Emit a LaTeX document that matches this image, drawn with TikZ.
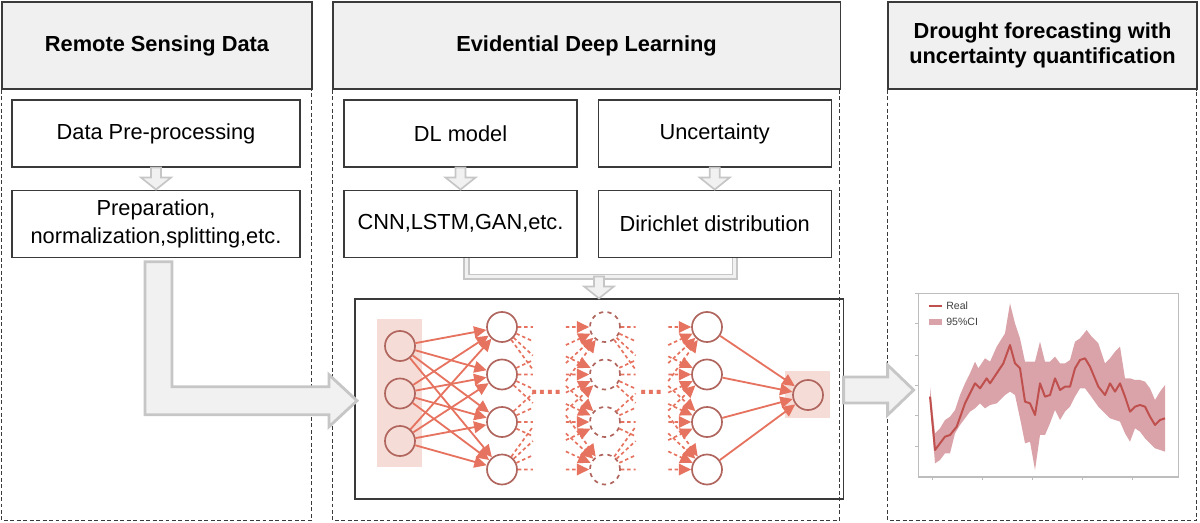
\documentclass[tikz,border=0pt]{standalone}
\usepackage{fontspec}
\setmainfont{Liberation Sans}
\usetikzlibrary{arrows.meta,positioning,calc}
\definecolor{hdrfill}{HTML}{F0F0F0}
\definecolor{frame}{HTML}{3A3A3A}
\definecolor{pipe}{HTML}{C6C6C6}
\definecolor{pipefill}{HTML}{F1F1F1}
\definecolor{nnedge}{HTML}{E6735F}
\definecolor{nnring}{HTML}{B0665E}
\definecolor{nnpink}{HTML}{F6DCD6}
\definecolor{real}{HTML}{C0504D}
\definecolor{ci}{HTML}{D9A3A9}
\definecolor{axis}{HTML}{BDBDBD}
\tikzset{
  >={Triangle[length=3.1mm,width=2.9mm]},
  hdr/.style={draw=frame,line width=0.8pt,fill=hdrfill,font=\fontsize{15.5}{18}\selectfont\bfseries,align=center,inner sep=0pt,minimum height=2.175cm},
  box/.style={draw=frame,line width=0.8pt,fill=white,font=\fontsize{15.5}{20}\selectfont,align=center,inner sep=0pt,minimum height=1.675cm},
  panel/.style={draw=frame,line width=0.8pt,dash pattern=on 2.8pt off 1.8pt},
  hollow/.style={draw=pipe,line width=2pt,fill=pipefill},
  pipeline/.style={draw=pipe,line width=1pt,double=pipefill,double distance=2.4pt},
  neuron/.style={circle,draw=nnring,line width=1.2pt,minimum size=0.75cm,inner sep=0pt},
  nnarrow/.style={->,draw=nnedge,line width=1.3pt},
  nnstub/.style={draw=nnedge,line width=1.2pt,dash pattern=on 2.5pt off 2pt},
  nndots/.style={text=nnedge,font=\fontsize{20}{20}\selectfont\bfseries,inner sep=0pt},
  legend/.style={font=\fontsize{7.5}{9}\selectfont,text=black!75,inner sep=0pt,anchor=west},
  dnarrow/.pic={\draw[hollow,line width=1.2pt] (-5,0) -- (5,0) -- (5,10) -- (15,10) -- (0,22) -- (-15,10) -- (-5,10) -- cycle;},
}
\begin{document}
\begin{tikzpicture}[x=0.025cm,y=-0.025cm]
\useasboundingbox (0,0) rectangle (1200,523);

% column headers
\node[hdr,minimum width=7.75cm] (hrs) at (157,45.5) {Remote Sensing Data};
\node[hdr,minimum width=12.675cm] (hedl) at (586.5,45.5) {Evidential Deep Learning};
\node[hdr,minimum width=7.725cm] (hdf) at (1042.5,45.5) {Drought forecasting with\\uncertainty quantification};

\draw[panel] (hrs.south west) rectangle ++(310,431);
\draw[panel] (hedl.south west) rectangle ++(507,431);
\draw[panel] (hdf.south west) rectangle ++(309,431);

% boxes
\node[box,minimum width=7.2cm] (pre) at (156,133.5) {Data Pre-processing};
\node[box,minimum width=7.2cm,below=0.55cm of pre] (prep) {Preparation,\\normalization,splitting,etc.};
\node[box,minimum width=5.825cm] (dl) at (460.5,133.5) {DL model};
\node[box,minimum width=5.825cm,right=0.5cm of dl] (unc) {Uncertainty};
\node[box,minimum width=5.825cm,below=0.55cm of dl] (cnn) {CNN,LSTM,GAN,etc.};
\node[box,minimum width=5.825cm,below=0.55cm of unc] (dir) {Dirichlet distribution};
\node[draw=frame,line width=0.8pt,minimum width=12.2cm,minimum height=5cm] (nn) at (599,399) {};

\pic at (pre.south) {dnarrow};
\pic at (dl.south) {dnarrow};
\pic at (unc.south) {dnarrow};
\draw[pipeline] ([xshift=0.15cm]cnn.south) -- ++(0,19) -| ([xshift=0.5cm]dir.south);
\pic at ($(nn.north)+(0,-22)$) {dnarrow};

% big arrows
\draw[hollow] ($(prep.south)+(-11,4)$) -- ++(27,0) -- ++(0,125) -- ++(157,0) -- ++(0,-12)
  -- ++(28,26) -- ++(-28,26) -- ++(0,-12) -- ++(-184,0) -- cycle;
\draw[hollow] ($(nn.east)+(0,-22)$) -- ++(44,0) -- ++(0,-12) -- ++(26,25) -- ++(-26,25)
  -- ++(0,-12) -- ++(-44,0) -- cycle;

% network
\fill[nnpink] (377,319) rectangle (422,467);
\fill[nnpink] (785,371) rectangle (830,418);
\foreach \i/\y in {1/346,2/393.5,3/441}
  \node[neuron] (in\i) at (400,\y) {};
\foreach \i/\y in {1/327,2/374.5,3/422,4/469.5} {
  \node[neuron] (ha\i) at (502,\y) {};
  \node[neuron,dashed] (hb\i) at (605,\y) {};
  \node[neuron] (hc\i) at (707,\y) {};
}
\node[neuron] (out) at (808,395) {};

\foreach \i in {1,2,3}
  \foreach \j in {1,...,4}
    \draw[nnarrow] (in\i) -- (ha\j);
\foreach \i in {1,...,4}
  \draw[nnarrow] (hc\i) -- (out);
\foreach \i in {1,...,4}
  \foreach \j in {1,...,4} {
    \draw[nnstub] (ha\i) -- ($(ha\i)!0.3!(hb\j)$);
    \draw[nnstub,->] ($(ha\i)!0.62!(hb\j)$) -- (hb\j);
    \draw[nnstub] (hb\i) -- ($(hb\i)!0.3!(hc\j)$);
    \draw[nnstub,->] ($(hb\i)!0.62!(hc\j)$) -- (hc\j);
  }
\node[nndots] (dotsa) at (546,392) {....};
\node[nndots] (dotsb) at (651,392) {...};

% forecast chart
\begin{scope}[shift={(890,280)},scale=1/3]
\fill[ci] plot coordinates {(120,320) (135,460) (150,445) (165,420) (180,410) (195,390) (210,345)
  (225,310) (240,280) (255,245) (265,265) (285,235) (300,245) (320,200) (345,160) (360,70)
  (375,130) (390,175) (405,245) (420,245) (435,245) (450,185) (465,245) (480,245) (495,230)
  (510,250) (525,250) (540,240) (555,185) (570,175) (590,150) (605,170) (625,190) (645,250)
  (660,235) (675,215) (690,200) (705,295) (720,295) (735,300) (750,300) (765,305) (780,325)
  (795,360) (810,335) (825,315)
  (825,515) (810,510) (795,505) (780,490) (765,475) (750,455) (735,445) (720,485) (705,460)
  (690,425) (675,420) (660,415) (645,400) (625,380) (600,345) (585,325) (570,325) (555,350)
  (540,380) (525,395) (510,420) (495,390) (480,430) (465,465) (450,465) (435,570) (420,485)
  (405,490) (390,415) (375,345) (360,335) (345,345) (320,370) (300,375) (285,385) (270,370)
  (255,385) (240,395) (225,415) (210,435) (195,460) (180,520) (165,520) (150,540) (135,550)
  (120,370)} -- cycle;
\draw[real,line width=1.4pt,line join=round] plot coordinates {(120,350) (135,510) (165,470)
  (180,465) (200,440) (225,370) (255,310) (270,325) (290,295) (300,310) (320,280) (340,250)
  (360,195) (375,250) (390,265) (405,365) (420,370) (435,405) (450,310) (465,350) (480,345)
  (495,295) (510,330) (525,320) (540,320) (555,265) (570,240) (585,235) (600,260) (625,320)
  (645,345) (660,310) (675,335) (690,310) (705,350) (720,395) (735,380) (750,375) (765,380)
  (780,410) (795,435) (810,420) (825,415)};
\draw[axis,line width=0.9pt] (85,40) rectangle (865,591);
\foreach \x in {126,276,426,576,726}
  \draw[axis,line width=0.6pt] (\x,591) -- ++(0,9);
\foreach \y in {40,130,225,315,405,500}
  \draw[axis,line width=0.6pt] (85,\y) -- ++(-9,0);
\draw[real,line width=1.4pt] (118,78) -- (155,78);
\fill[ci] (118,116) rectangle (157,134);
\node[legend] (lreal) at (168,78) {Real};
\node[legend] (lci) at (168,125) {95\%CI};
\end{scope}
\end{tikzpicture}
\end{document}
